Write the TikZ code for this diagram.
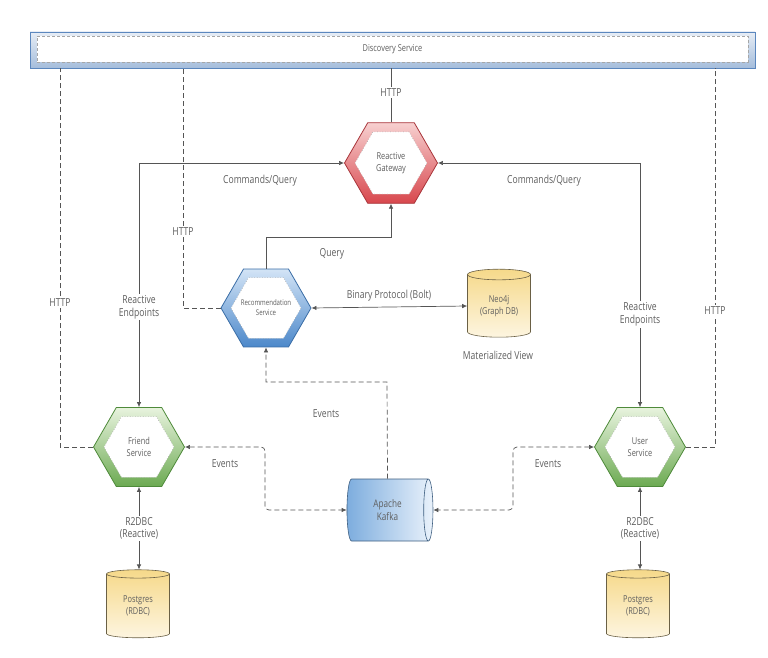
\documentclass[tikz,border=0pt]{standalone}
\usepackage{fontspec}
\setmainfont[FakeStretch=0.78]{Open Sans}
\usetikzlibrary{shapes.geometric,arrows.meta}
\definecolor{txtc}{HTML}{5E5E5E}
\definecolor{linec}{HTML}{555555}
\definecolor{redt}{HTML}{F7D0D0}
\definecolor{redb}{HTML}{D8474D}
\definecolor{redd}{HTML}{A8353A}
\definecolor{bluet}{HTML}{D3E4F6}
\definecolor{blueb}{HTML}{4C88CA}
\definecolor{blued}{HTML}{3A6DA6}
\definecolor{greent}{HTML}{E8F3DE}
\definecolor{greenb}{HTML}{6CAA52}
\definecolor{greend}{HTML}{4E8A3A}
\definecolor{yelt}{HTML}{F6D98A}
\definecolor{yelb}{HTML}{FDF5E0}
\definecolor{yeld}{HTML}{6A6045}
\definecolor{kafl}{HTML}{7DADDE}
\definecolor{kafr}{HTML}{EAF2FB}
\definecolor{kafd}{HTML}{3E5E80}
\definecolor{discb}{HTML}{5B87BE}
\tikzset{
  every node/.style={font=\fontsize{11}{12.5}\selectfont, text=txtc},
  nodetxt/.style={font=\fontsize{9.5}{11.5}\selectfont, align=center},
  hexo/.style={regular polygon, regular polygon sides=6, minimum size=#1, inner sep=0pt, line width=0.8pt},
  hexi/.style={regular polygon, regular polygon sides=6, minimum size=#1, inner sep=0pt, fill=white, draw=gray!70, dotted, line width=0.6pt},
  cyl/.style={cylinder, shape border rotate=90, aspect=0.28, draw=yeld, line width=0.6pt, top color=yelt, bottom color=yelb, minimum width=63pt, minimum height=68pt, inner sep=0pt, nodetxt},
  lbl/.style={fill=white, inner sep=1.5pt, align=center},
  conn/.style={draw=linec, line width=0.7pt},
  dconn/.style={draw=linec, line width=0.7pt, dash pattern=on 5pt off 3pt},
  tip/.style={-{Latex[length=5pt,width=4.5pt]}},
  tips/.style={{Latex[length=5pt,width=4.5pt]}-{Latex[length=5pt,width=4.5pt]}},
}
\begin{document}
\begin{tikzpicture}[x=1pt,y=-1pt]
\useasboundingbox (0,0) rectangle (768,658);
% discovery bar
\node[draw=discb, line width=0.8pt, top color=white!85!discb, bottom color=white!45!discb, minimum width=725pt, minimum height=36pt, inner sep=0pt] (disc) at (392.5,50) {};
\node[draw=gray!70, fill=white, dash pattern=on 3pt off 2pt, line width=0.6pt, minimum width=711pt, minimum height=26pt, inner sep=0pt, font=\fontsize{9.5}{11}\selectfont] (disci) at (392.5,49.5) {Discovery Service};
% hexagons
\node[hexo=93pt, draw=redd, top color=redt, bottom color=redb] (gw) at (391,163) {};
\node[hexi=72pt] at (gw) {};
\node[nodetxt] at (gw) {Reactive\\Gateway};
\node[hexo=90pt, draw=blued, top color=bluet, bottom color=blueb] (rs) at (266,308) {};
\node[hexi=70pt] at (rs) {};
\node[nodetxt, font=\fontsize{7.8}{10}\selectfont] at (rs) {Recommendation\\Service};
\node[hexo=91pt, draw=greend, top color=greent, bottom color=greenb] (fs) at (139,447) {};
\node[hexi=70pt] at (fs) {};
\node[nodetxt] at (fs) {Friend\\Service};
\node[hexo=91pt, draw=greend, top color=greent, bottom color=greenb] (us) at (640,447) {};
\node[hexi=70pt] at (us) {};
\node[nodetxt] at (us) {User\\Service};
% cylinders
\node[cyl] (neo) at (499,306) {Neo4j\\(Graph DB)};
\node (mv) at (498,355) {Materialized View};
\node[cyl] (pg1) at (138,606) {Postgres\\(RDBC)};
\node[cyl] (pg2) at (638,606) {Postgres\\(RDBC)};
\node[cylinder, shape border rotate=0, aspect=0.45, draw=kafd, line width=0.6pt, left color=kafl, right color=kafr, minimum width=62pt, minimum height=86pt, inner sep=0pt, nodetxt, font=\fontsize{10.5}{12.5}\selectfont] (kaf) at (387.5,510) {Apache\\Kafka};
% coordinates
\coordinate (h1) at (60,68);
\coordinate (h2) at (183,68);
\coordinate (h3) at (715,68);
\coordinate (q) at (266,237);
\coordinate (ke) at (387,382);
\coordinate (f1) at (265,447);
\coordinate (f2) at (265,510);
\coordinate (u1) at (513,447);
\coordinate (u2) at (513,510);
% discovery links
\draw[dconn] (fs.west) -| (h1) node[pos=0.69, lbl] {HTTP};
\draw[dconn] (rs.west) -| (h2) node[pos=0.66, lbl] {HTTP};
\draw[dconn] (us.east) -| (h3) node[pos=0.68, lbl] {HTTP};
\draw[conn] (gw.north) -- (gw.north |- disc.south) node[pos=0.55, lbl] {HTTP};
% command links
\draw[conn, tips] (fs.north) |- (gw.west) node[pos=0.205, lbl] {Reactive\\Endpoints};
\draw[conn, tips] (us.north) |- (gw.east) node[pos=0.19, lbl] {Reactive\\Endpoints};
\node at (260,181) {Commands/Query};
\node at (544,181) {Commands/Query};
% query
\draw[conn, tip] (rs.north) -- (q) -| (gw.south);
\node at (332,254) {Query};
% bolt
\draw[conn, tips] (rs.east) -- (neo.west);
\node at (389,296) {Binary Protocol (Bolt)};
% events
\draw[dconn, tip] (kaf.north) -- (ke) -| (rs.south);
\node at (326,414) {Events};
\draw[dconn, tips, rounded corners=4pt] (fs.east) -- (f1) -- (f2) -- (kaf.west);
\node at (225,464) {Events};
\draw[dconn, tips, rounded corners=4pt] (us.west) -- (u1) -- (u2) -- (kaf.east);
\node at (548,464) {Events};
% r2dbc
\draw[conn, tips] (fs.south) -- (pg1.north -| fs.south) node[midway, lbl] {R2DBC\\(Reactive)};
\draw[conn, tips] (us.south) -- (pg2.north -| us.south) node[midway, lbl] {R2DBC\\(Reactive)};
\end{tikzpicture}
\end{document}
